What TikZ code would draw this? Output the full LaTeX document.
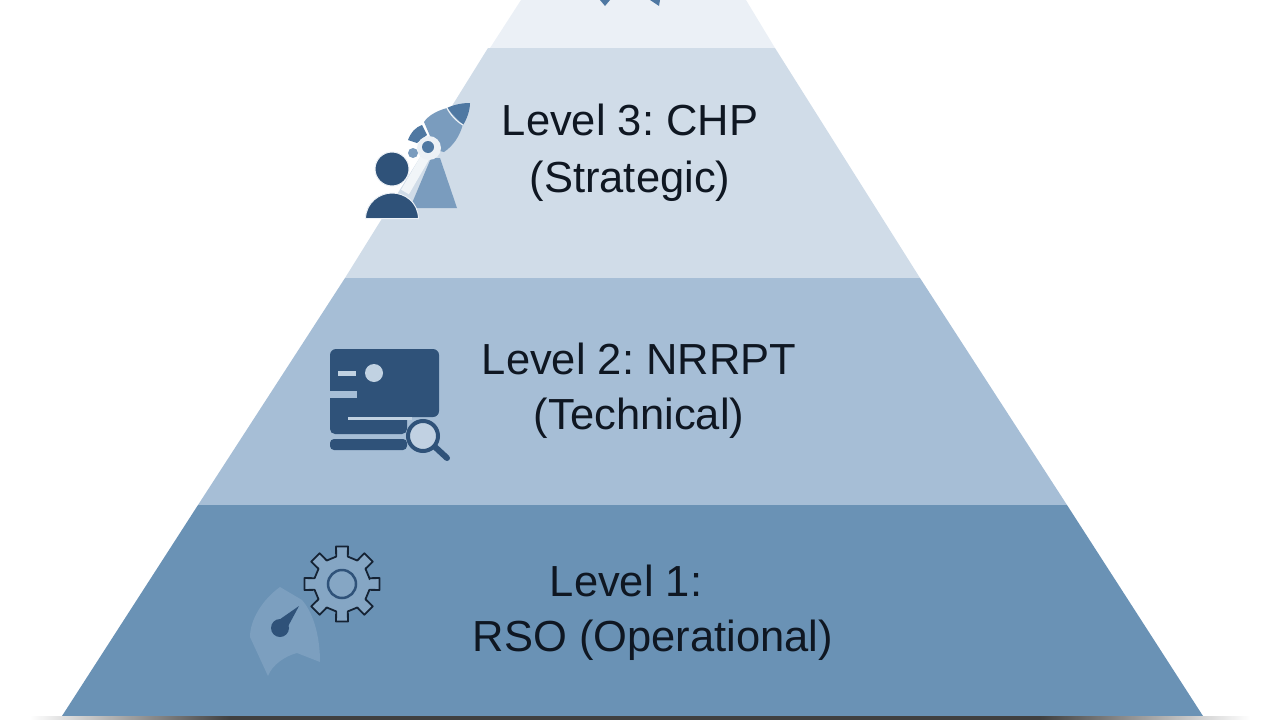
\documentclass[tikz,border=0pt]{standalone}
\usepackage{fontspec}
\setmainfont{Liberation Sans}
\usetikzlibrary{positioning}
\definecolor{bandone}{HTML}{6A92B5}
\definecolor{bandtwo}{HTML}{A6BED6}
\definecolor{bandthree}{HTML}{D0DCE8}
\definecolor{bandfour}{HTML}{EBF0F6}
\definecolor{icondark}{HTML}{2F5279}
\definecolor{iconmid}{HTML}{7A9CBE}
\definecolor{iconhead}{HTML}{4F78A2}
\definecolor{inktext}{HTML}{0F1722}
\begin{document}
\begin{tikzpicture}[x=1pt, y=-1pt, node distance=14pt,
            lvl/.style={text=inktext, inner sep=0pt, text height=33pt, text depth=10pt, font=\fontsize{43.5}{44}\selectfont\frenchspacing},
            darkicon/.style={fill=icondark, draw=white!60!bandthree, line width=1pt},
            gapline/.style={draw=white!60!bandthree, line width=1.2pt}
        ]
        \useasboundingbox (0,0) rectangle (1280,720);
        % pyramid bands
        \fill[bandfour] (521,0) -- (746,0) -- (775,48) -- (490,48) -- cycle;
        \fill[bandthree] (488,48) -- (775,48) -- (920,278) -- (345,278) -- cycle;
        \fill[bandtwo] (345,278) -- (920,278) -- (1067,505) -- (198,505) -- cycle;
        \fill[bandone] (198,505) -- (1067,505) -- (1203,716) -- (62,716) -- cycle;
        % dark edge under the base
        \shade[left color=white, right color=black!75] (30,716) rectangle (230,720);
        \fill[black!75] (230,716) rectangle (1040,720);
        \shade[left color=black!75, right color=white] (1040,716) rectangle (1250,720);

        % labels
        \node[lvl, anchor=base] (lvlthree) at (630,135) {Level 3: CHP};
        \node[lvl, below=of lvlthree] (strategic) {(Strategic)};
        \node[lvl, anchor=base] (lvltwo) at (639,374) {Level 2: NRRPT};
        \node[lvl, below=12pt of lvltwo] (technical) {(Technical)};
        \node[lvl, anchor=base] (lvlone) at (626,596) {Level 1:};
        \node[lvl, below=12pt of lvlone, xshift=27pt] (operational) {RSO (Operational)};

        % top icon, cut off by the page
        \fill[iconhead] (600,0) -- (610,0) -- (605,6) -- cycle;
        \fill[iconhead] (650,0) -- (660,0) -- (659,6) -- cycle;

        % robot arm and person
        \draw[white!70!bandthree, line width=9pt] (426,156) -- (405,192);
        \fill[iconmid] (431,158) -- (440,158) -- (457,208) -- (410,208) -- cycle;
        \fill[iconmid] (447,108) .. controls (436,111) and (428,116) .. (424,122) -- (436,150) -- (444,152) .. controls (453,146) and (460,136) .. (463,124) -- cycle;
        \fill[iconhead] (447,108) .. controls (455,104) and (464,103) .. (470,103) .. controls (470,110) and (467,119) .. (463,125) -- cycle;
        \draw[gapline] (447,108) .. controls (450,114) and (456,121) .. (463,125);
        \fill[iconhead] (408,140) .. controls (411,132) and (416,127) .. (422,125) -- (427,135) -- (417,143) -- cycle;
        \fill[white!60!bandthree] (429,148) circle (12);
        \fill[iconhead] (428,147) circle (6);
        \fill[iconmid] (413,153) circle (5);
        \draw[darkicon] (392,169) circle (17);
        \draw[darkicon] (365.5,218.5) .. controls (366,202) and (380,193) .. (392,193) .. controls (405,193) and (418,202) .. (418.5,218.5) -- cycle;

        % card and magnifier
        \fill[icondark, rounded corners=6pt] (330,349) rectangle (439,417);
        \fill[icondark, rounded corners=5pt] (330,399) rectangle (407,434);
        \fill[icondark, rounded corners=4pt] (330,439) rectangle (407,450);
        \fill[bandtwo] (328,391) rectangle (357,398);
        \fill[bandtwo!70!white] (348,417) rectangle (412,420);
        \fill[bandtwo!70!white] (338,371) rectangle (356,376);
        \fill[bandtwo!70!white] (374,373) circle (9);
        \draw[icondark, line width=6pt, line cap=round] (434,446) -- (447,458);
        \draw[icondark, fill=bandtwo!70!white, line width=4pt] (423,436) circle (15);

        % gauge and gear
        \fill[bandone!70!bandtwo] (280,587) .. controls (262,600) and (250,620) .. (250,637) -- (268,676) .. controls (272,665) and (285,656) .. (297,653) -- (320,662) .. controls (320,640) and (315,615) .. (302,600) -- cycle;
        \fill[icondark] (276,622) -- (299,606) -- (285,632) -- cycle;
        \fill[icondark] (280,628) circle (9);
        \draw[inktext!80!icondark, fill=bandone!55!bandtwo, line width=1.8pt, line join=round, shift={(342,584)}]
            (-10:28) \foreach \a in {0,45,...,315} {
              -- (\a-12:28) -- (\a-9:38) -- (\a+9:38) -- (\a+12:28) -- (\a+33:28)
            } -- cycle;
        \draw[icondark, line width=2.5pt] (342,584) circle (14);
        \end{tikzpicture}
\end{document}
